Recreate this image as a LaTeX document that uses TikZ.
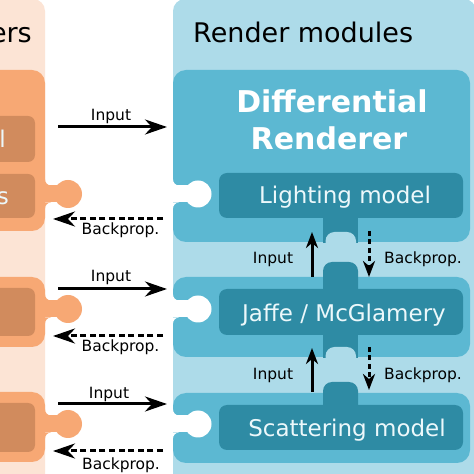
\documentclass[tikz,border=0pt]{standalone}
\usepackage{fontspec}
\setmainfont{DejaVu Sans}
\usetikzlibrary{arrows.meta}
\definecolor{peachpale}{RGB}{252,228,213}
\definecolor{orangemid}{RGB}{247,168,116}
\definecolor{orangedark}{RGB}{209,139,93}
\definecolor{bluepale}{RGB}{173,219,233}
\definecolor{bluemid}{RGB}{92,184,210}
\definecolor{bluedark}{RGB}{46,139,164}
\definecolor{boxtext}{RGB}{236,248,251}
\begin{document}
\begin{tikzpicture}[x=1pt,y=1pt,
  bigtitle/.style={font=\fontsize{27}{32}\selectfont, text=black, inner sep=0pt},
  boldtitle/.style={font=\bfseries\fontsize{30}{35}\selectfont, text=white, inner sep=0pt},
  boxlabel/.style={font=\fontsize{23}{27}\selectfont, text=boxtext, inner sep=0pt},
  smalllabel/.style={font=\fontsize{15.5}{18}\selectfont, text=black, inner sep=0pt},
  flowarrow/.style={line width=3pt, -{Stealth[length=22pt,width=15pt,inset=7pt]}},
  backarrow/.style={flowarrow, dash pattern=on 6pt off 3.6pt},
  vflow/.style={line width=3pt, -{Stealth[length=16pt,width=12pt,inset=5pt]}},
  vback/.style={vflow, dash pattern=on 5pt off 3.5pt},
  piece/.style={rounded corners=13pt},
  innerbox/.style={rounded corners=8pt},
]
\useasboundingbox (0,0) rectangle (474,474);
\fill[white] (0,0) rectangle (474,474);
\begin{scope}
\clip (0,0) rectangle (474,474);
% ---------- left column (parameters) ----------
\fill[peachpale, rounded corners=12pt] (-30,-20) rectangle (45,475);
\fill[orangemid, piece] (-30,243) rectangle (45,404);
\fill[orangemid, piece] (-30,127) rectangle (45,197);
\fill[orangemid, piece] (-30,12) rectangle (45,82);
\foreach \yc in {280,165,50}{
  \fill[orangemid] (40,\yc-8.5) rectangle (60,\yc+8.5);
  \fill[orangemid] (68,\yc) circle[radius=14pt];
  \fill[orangemid] (45,\yc+8.5) -- (45,\yc+14.5) arc[start angle=180,end angle=270,radius=6pt] -- cycle;
  \fill[orangemid] (45,\yc-8.5) -- (45,\yc-14.5) arc[start angle=180,end angle=90,radius=6pt] -- cycle;
}
\fill[orangedark, rounded corners=7pt] (-20,312) rectangle (35,358);
\fill[orangedark, rounded corners=7pt] (-20,256) rectangle (35,300);
\fill[orangedark, rounded corners=7pt] (-20,138) rectangle (35,186);
\fill[orangedark, rounded corners=7pt] (-20,22) rectangle (35,71);
\node[boxlabel, anchor=base east] (pl1) at (6,326) {l};
\node[boxlabel, anchor=base east] (pl2) at (9,269) {s};
\node[bigtitle, anchor=base east] (ltitle) at (32,431) {ers};
% ---------- right column (render modules) ----------
\fill[bluepale, rounded corners=12pt] (173,-20) rectangle (476,475);
\fill[bluemid, piece] (173,232) rectangle (470,404);
\fill[bluemid, piece] (173,117) rectangle (470,197);
\fill[bluemid, piece] (173,11) rectangle (470,81);
\foreach \yc in {280,165,50}{
  \fill[white] (170,\yc-8.5) rectangle (190,\yc+8.5);
  \fill[white] (198,\yc) circle[radius=13.5pt];
  \fill[white] (173,\yc+8.5) -- (173,\yc+14.5) arc[start angle=180,end angle=270,radius=6pt] -- cycle;
  \fill[white] (173,\yc-8.5) -- (173,\yc-14.5) arc[start angle=180,end angle=90,radius=6pt] -- cycle;
}
% tabs between modules
\fill[bluedark] (323,231) rectangle (358,262);
\fill[bluepale, rounded corners=9pt] (325.5,230) -- (325.5,242) -- (356,242) -- (356,230);
\fill[bluedark, rounded corners=9pt] (323,180) -- (323,212) -- (358,212) -- (358,180);
\fill[bluedark] (323,116) rectangle (358,142);
\fill[bluepale, rounded corners=9pt] (325.5,115) -- (325.5,127) -- (356,127) -- (356,115);
\fill[bluedark, rounded corners=9pt] (323,64) -- (323,92) -- (358,92) -- (358,64);
% module boxes
\fill[bluedark, innerbox] (219,256) rectangle (463,301);
\fill[bluedark, innerbox] (219,139) rectangle (463,185);
\fill[bluedark, innerbox] (219,24) rectangle (463,69);
\node[bigtitle, anchor=base west] (rtitle) at (193,431) {Render modules};
\node[boldtitle, anchor=base] (diff1) at (332,361) {Differential};
\node[boldtitle, anchor=base] (diff2) at (329,324) {Renderer};
\node[boxlabel, anchor=base] (light) at (345,270) {Lighting model};
\node[boxlabel, anchor=base] (jaffe) at (344,152) {Jaffe / McGlamery};
\node[boxlabel, anchor=base] (scat) at (347,37) {Scattering model};
% ---------- arrow end points ----------
\coordinate (in1s) at (58,347);  \coordinate (in1e) at (167,347);
\coordinate (bp1s) at (163,255); \coordinate (bp1e) at (53,255);
\coordinate (in2s) at (58,185);  \coordinate (in2e) at (167,185);
\coordinate (bp2s) at (163,138); \coordinate (bp2e) at (53,138);
\coordinate (in3s) at (58,70);   \coordinate (in3e) at (167,70);
\coordinate (bp3s) at (163,23);  \coordinate (bp3e) at (53,23);
\coordinate (vu1s) at (312,197); \coordinate (vu1e) at (312,242);
\coordinate (vd1s) at (369,243); \coordinate (vd1e) at (369,197);
\coordinate (vu2s) at (312,82);  \coordinate (vu2e) at (312,126);
\coordinate (vd2s) at (369,127); \coordinate (vd2e) at (369,84);
\draw[flowarrow] (in1s) -- (in1e);
\draw[backarrow] (bp1s) -- (bp1e);
\draw[flowarrow] (in2s) -- (in2e);
\draw[backarrow] (bp2s) -- (bp2e);
\draw[flowarrow] (in3s) -- (in3e);
\draw[backarrow] (bp3s) -- (bp3e);
\draw[vflow] (vu1s) -- (vu1e);
\draw[vback] (vd1s) -- (vd1e);
\draw[vflow] (vu2s) -- (vu2e);
\draw[vback] (vd2s) -- (vd2e);
% ---------- labels ----------
\node[smalllabel, anchor=base] (in1l) at (111,353) {Input};
\node[smalllabel, anchor=base] (bp1l) at (120.5,239) {Backprop.};
\node[smalllabel, anchor=base] (in2l) at (111,192) {Input};
\node[smalllabel, anchor=base] (bp2l) at (120.5,122) {Backprop.};
\node[smalllabel, anchor=base] (in3l) at (109,75) {Input};
\node[smalllabel, anchor=base] (bp3l) at (121,5) {Backprop.};
\node[smalllabel, anchor=base] (vin1l) at (273,210) {Input};
\node[smalllabel, anchor=base] (vbp1l) at (423,210) {Backprop.};
\node[smalllabel, anchor=base] (vin2l) at (273,94) {Input};
\node[smalllabel, anchor=base] (vbp2l) at (423,94) {Backprop.};
\end{scope}
\end{tikzpicture}
\end{document}
